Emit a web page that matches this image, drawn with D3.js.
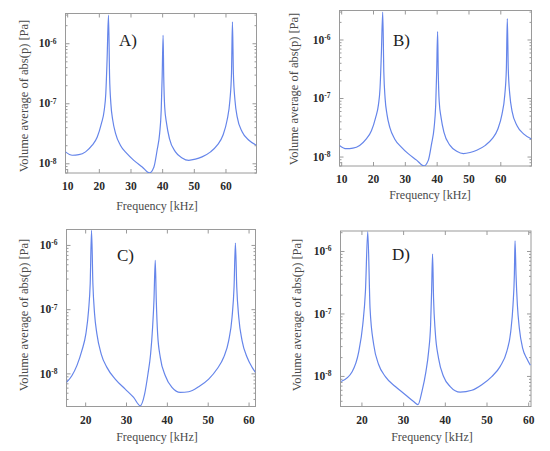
<!DOCTYPE html>
<html>
<head>
<meta charset="utf-8">
<script src="https://cdn.jsdelivr.net/npm/d3@7"></script>
<style>
  body { margin: 0; background: #fff; }
  svg { display: block; }
</style>
</head>
<body>
<svg id="chart" width="550" height="451"></svg>
<script>
// ---- data ----
// panels A and B show the same response
const freqAB = [9.47, 11.6, 13.7, 15.8, 17.9, 19.5, 20.8, 21.7, 22.2, 22.6, 23.05, 23.4, 23.8, 24.4, 25.3, 26.8, 28.9, 31.05, 33.7, 36.0,
                37.4, 38.4, 39.2, 39.7, 40.0, 40.3, 40.5, 40.8, 41.4, 42.3, 44.2, 46.3, 48.4, 50.5, 52.6, 55.3, 57.4, 59.2, 60.5, 61.4,
                61.9, 62.2, 62.5, 63.0, 63.7, 65.3, 67.4, 69.8];
const valAB = [1.55e-8, 1.36e-8, 1.39e-8, 1.55e-8, 2.0e-8, 2.75e-8, 4.58e-8, 7.64e-8, 1.45e-7, 5.21e-7, 2.93e-6, 2.75e-7, 9.86e-8, 5.21e-8, 3.12e-8, 2.0e-8, 1.45e-8, 1.12e-8, 8.69e-9, 6.9e-9,
               8.69e-9, 1.65e-8, 3.12e-8, 7.64e-8, 2.75e-7, 1.36e-6, 2.75e-7, 8.69e-8, 4.58e-8, 2.58e-8, 1.55e-8, 1.23e-8, 1.12e-8, 1.17e-8, 1.28e-8, 1.55e-8, 2.0e-8, 2.93e-8, 5.21e-8, 1.12e-7,
               3.12e-7, 2.27e-6, 3.12e-7, 1.12e-7, 5.92e-8, 3.33e-8, 2.42e-8, 2.0e-8];

const freqC = [15.43, 16.74, 17.97, 19.19, 20.17, 20.83, 21.23, 21.56, 21.89, 22.30, 22.87, 23.93, 25.32, 27.36, 29.81, 31.86, 33.49, 34.55, 35.37, 36.02,
               36.51, 36.84, 37.16, 37.41, 37.74, 38.39, 39.62, 41.25, 43.29, 45.34, 47.79, 50.24, 52.28, 53.91, 55.14, 55.96, 56.45, 56.78, 57.11, 57.60,
               58.41, 59.64, 60.87, 61.69];
const valC = [7.23e-9, 9.2e-9, 1.32e-8, 2.26e-8, 4.12e-8, 9.53e-8, 2.49e-7, 1.69e-6, 2.49e-7, 8.46e-8, 4.12e-8, 2.0e-8, 1.24e-8, 8.15e-9, 5.69e-9, 4.22e-9, 3.13e-9, 4.75e-9, 9.77e-9, 2.0e-8,
              5.24e-8, 1.36e-7, 5.75e-7, 1.36e-7, 4.12e-8, 1.78e-8, 9.2e-9, 6.04e-9, 5.05e-9, 5.17e-9, 6.19e-9, 8.15e-9, 1.17e-8, 1.78e-8, 3.24e-8, 7.5e-8, 2.21e-7, 1.07e-6, 2.21e-7, 7.5e-8,
              3.24e-8, 1.78e-8, 1.24e-8, 1.04e-8];

const freqD = [15.14, 17.77, 19.36, 20.32, 20.96, 21.52, 22.07, 22.95, 24.15, 25.74, 28.13, 30.53, 32.52, 33.56, 34.51, 35.47, 36.11, 36.59, 36.83, 37.06,
               37.30, 37.70, 38.50, 39.70, 41.29, 43.68, 46.48, 48.87, 51.26, 53.25, 54.85, 55.81, 56.36, 56.68, 56.84, 57.08, 57.40, 57.88, 58.68, 59.63,
               60.51];
const valD = [8.13e-9, 1.17e-8, 2.45e-8, 6.61e-8, 2.24e-7, 2.04e-6, 1.2e-7, 3.16e-8, 1.51e-8, 9.77e-9, 6.76e-9, 5.01e-9, 3.89e-9, 3.47e-9, 5.62e-9, 1.17e-8, 2.45e-8, 6.61e-8, 2.24e-7, 8.91e-7,
              1.74e-7, 5.13e-8, 1.91e-8, 9.77e-9, 6.76e-9, 5.5e-9, 5.89e-9, 7.24e-9, 9.77e-9, 1.41e-8, 2.45e-8, 5.13e-8, 1.38e-7, 4.17e-7, 1.45e-6, 4.17e-7, 1.38e-7, 5.75e-8, 2.75e-8, 1.91e-8,
              1.48e-8];

const xTicksAB = [10, 20, 30, 40, 50, 60];
const xTicksCD = [20, 30, 40, 50, 60];
const yTicks = [1e-6, 1e-7, 1e-8];
const panelLabels = ["A)", "B)", "C)", "D)"];
const xTitle = "Frequency [kHz]";
const yTitle = "Volume average of abs(p) [Pa]";

// ---- layout ----
const panels = [
  {freq: freqAB, val: valAB, xDom: [9.47, 69.8], yDom: [6.89e-9, 3.13e-6], xTicks: xTicksAB,
   left: 65.5, right: 256.5, top: 13.5, bottom: 173, lab: [119, 46], xt: [157, 210], yt: [24, 96]},
  {freq: freqAB, val: valAB, xDom: [9.47, 69.8], yDom: [6.89e-9, 3.13e-6], xTicks: xTicksAB,
   left: 339.5, right: 531.5, top: 10.5, bottom: 166, lab: [393, 46], xt: [430, 199], yt: [294, 89]},
  {freq: freqC, val: valC, xDom: [15.43, 61.7], yDom: [3.05e-9, 1.74e-6], xTicks: xTicksCD,
   left: 66.5, right: 255.5, top: 229.5, bottom: 406.5, lab: [117, 261], xt: [157, 441], yt: [24, 315]},
  {freq: freqD, val: valD, xDom: [14.98, 60.67], yDom: [3.24e-9, 2.09e-6], xTicks: xTicksCD,
   left: 340.5, right: 531, top: 231, bottom: 406.5, lab: [392, 260], xt: [432, 441], yt: [297, 315]}
];

const svg = d3.select("#chart");
const defs = svg.append("defs");
const serif = "'Liberation Serif', 'DejaVu Serif', serif";

// minor log ticks between decades
const minorTicks = [];
for (let e = -9; e <= -5; e++) for (let m = 2; m <= 9; m++) minorTicks.push(m * Math.pow(10, e));

function styleAxis(g) {
  g.select(".domain").remove();
  g.selectAll(".tick line").attr("stroke", "#9a9a9a");
}

panels.forEach((p, i) => {
  const x = d3.scaleLinear().domain(p.xDom).range([p.left, p.right]);
  const y = d3.scaleLog().domain(p.yDom).range([p.bottom, p.top]);
  const minors = minorTicks.filter(v => v >= p.yDom[0] && v <= p.yDom[1]);

  // bottom axis with labels
  svg.append("g")
    .attr("transform", `translate(0,${p.bottom})`)
    .call(d3.axisBottom(x).tickValues(p.xTicks).tickSize(-4).tickPadding(9).tickFormat(d3.format("d")))
    .call(styleAxis)
    .call(g => g.selectAll("text")
      .attr("font-family", serif).attr("font-weight", "bold")
      .attr("font-size", "11.5px").attr("fill", "#2a2a2a"));

  // top axis, ticks only
  svg.append("g")
    .attr("transform", `translate(0,${p.top})`)
    .call(d3.axisTop(x).tickValues(p.xTicks).tickSize(-4).tickFormat(""))
    .call(styleAxis);

  // left axis with 10^n labels
  svg.append("g")
    .attr("transform", `translate(${p.left},0)`)
    .call(d3.axisLeft(y).tickValues(yTicks).tickSize(-4).tickPadding(9).tickFormat(""))
    .call(styleAxis)
    .call(g => g.selectAll(".tick text")
      .attr("font-family", serif).attr("font-weight", "bold")
      .attr("font-size", "11.5px").attr("fill", "#2a2a2a")
      .each(function(d) {
        const t = d3.select(this);
        t.append("tspan").text("10");
        t.append("tspan").attr("dy", "-0.5em").attr("font-size", "7.5px")
          .text("-" + Math.abs(Math.round(Math.log10(d))));
      }));

  svg.append("g")
    .attr("transform", `translate(${p.left},0)`)
    .call(d3.axisLeft(y).tickValues(minors).tickSize(-2).tickFormat(""))
    .call(styleAxis);

  // right axis, ticks only
  svg.append("g")
    .attr("transform", `translate(${p.right},0)`)
    .call(d3.axisRight(y).tickValues(yTicks).tickSize(-4).tickFormat(""))
    .call(styleAxis);
  svg.append("g")
    .attr("transform", `translate(${p.right},0)`)
    .call(d3.axisRight(y).tickValues(minors).tickSize(-2).tickFormat(""))
    .call(styleAxis);

  // frame
  svg.append("rect")
    .attr("x", p.left).attr("y", p.top)
    .attr("width", p.right - p.left).attr("height", p.bottom - p.top)
    .attr("fill", "none").attr("stroke", "#9a9a9a").attr("stroke-width", 1);

  // curve
  defs.append("clipPath").attr("id", "clip" + i)
    .append("rect")
    .attr("x", p.left).attr("y", p.top)
    .attr("width", p.right - p.left).attr("height", p.bottom - p.top);

  const pts = p.freq.map((f, k) => [f, p.val[k]]);
  const line = d3.line()
    .x(d => x(d[0]))
    .y(d => y(d[1]))
    .curve(d3.curveMonotoneX);

  svg.append("path")
    .datum(pts)
    .attr("clip-path", `url(#clip${i})`)
    .attr("d", line)
    .attr("fill", "none")
    .attr("stroke", "#6585ea")
    .attr("stroke-width", 1.2)
    .attr("stroke-linejoin", "round");

  // panel label
  svg.append("text")
    .attr("x", p.lab[0]).attr("y", p.lab[1])
    .attr("font-family", serif).attr("font-size", "17px").attr("fill", "#222")
    .text(panelLabels[i]);

  // axis titles
  svg.append("text")
    .attr("x", p.xt[0]).attr("y", p.xt[1])
    .attr("text-anchor", "middle")
    .attr("font-family", serif).attr("font-size", "12px").attr("fill", "#4a4a4a")
    .text(xTitle);

  svg.append("text")
    .attr("transform", `translate(${p.yt[0]},${p.yt[1]}) rotate(-90)`)
    .attr("text-anchor", "middle")
    .attr("dominant-baseline", "central")
    .attr("font-family", serif).attr("font-size", "12.5px").attr("fill", "#4a4a4a")
    .text(yTitle);
});
</script>
</body>
</html>
